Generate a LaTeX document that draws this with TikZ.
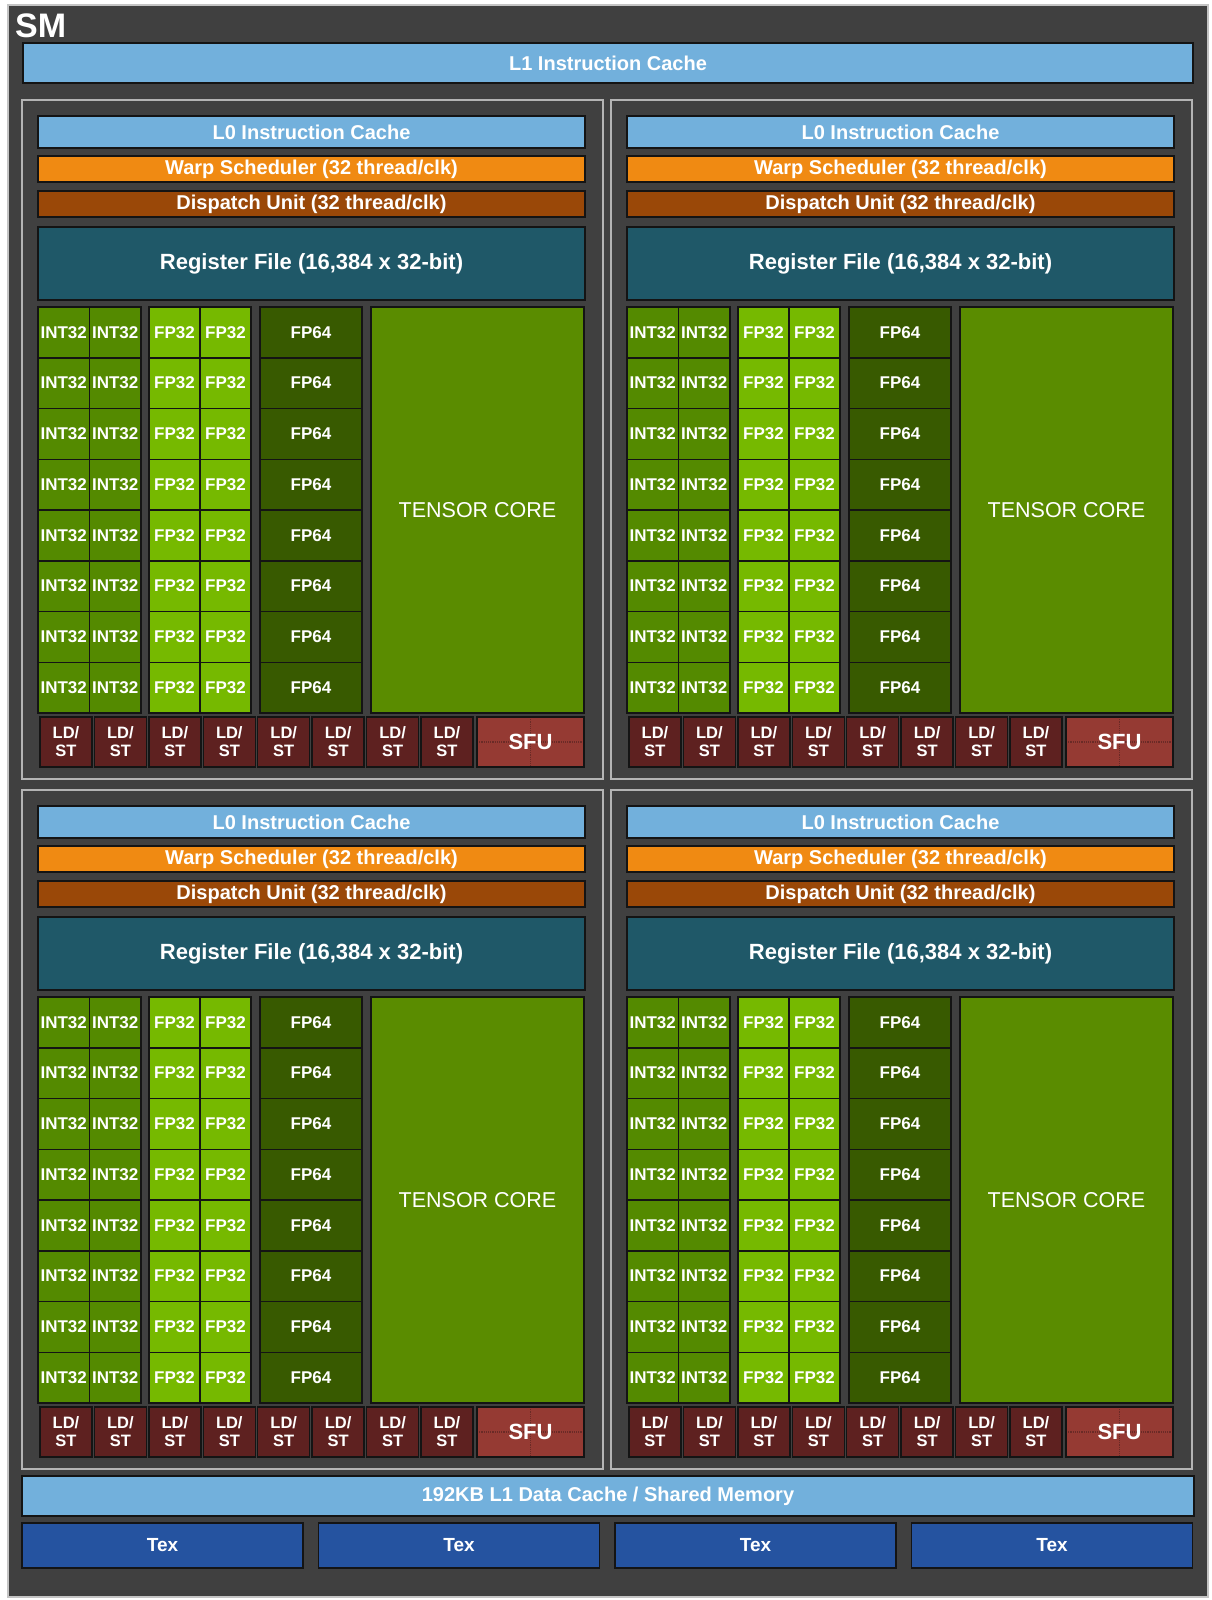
\documentclass[tikz,border=0pt]{standalone}
\usepackage{fontspec}
\setmainfont{Liberation Sans}
\definecolor{bgdark}{HTML}{404040}
\definecolor{outerline}{HTML}{C4C4C4}
\definecolor{quadline}{HTML}{B4B4B4}
\definecolor{cacheblue}{HTML}{72B0DC}
\definecolor{warporange}{HTML}{F08A12}
\definecolor{dispbrown}{HTML}{9A4808}
\definecolor{regteal}{HTML}{1F5868}
\definecolor{intgreen}{HTML}{548A00}
\definecolor{fpgreen}{HTML}{76B900}
\definecolor{fp64green}{HTML}{385A00}
\definecolor{tensorgreen}{HTML}{5A8C00}
\definecolor{ldstred}{HTML}{5E2120}
\definecolor{sfured}{HTML}{953A33}
\definecolor{sfudotc}{HTML}{6A2A26}
\definecolor{texblue}{HTML}{2553A0}
\definecolor{edgedark}{HTML}{141414}
\tikzset{
  blk/.style={draw=edgedark, line width=1.5pt, inner sep=0pt, outer sep=0pt, text=white, align=center},
  bartext/.style={font=\fontsize{20}{24}\selectfont\bfseries},
  cachebar/.style={blk, fill=cacheblue, bartext},
  warpbar/.style={blk, fill=warporange, bartext},
  dispbar/.style={blk, fill=dispbrown, bartext},
  regbar/.style={blk, fill=regteal, font=\fontsize{22}{26}\selectfont\bfseries},
  unittext/.style={font=\fontsize{17}{20}\selectfont\bfseries},
  intc/.style={blk, fill=intgreen, unittext, minimum width=51.5, minimum height=50.75},
  fpc/.style={blk, fill=fpgreen, unittext, minimum width=51, minimum height=50.75},
  fp64c/.style={blk, fill=fp64green, unittext, minimum width=102, minimum height=50.75},
  tensorc/.style={blk, fill=tensorgreen, font=\fontsize{21.5}{24}\selectfont, minimum width=213, minimum height=406},
  ldstc/.style={blk, fill=ldstred, font=\fontsize{16.5}{18}\selectfont\bfseries, minimum width=52, minimum height=50},
  sfuc/.style={blk, fill=sfured, font=\fontsize{22}{24}\selectfont\bfseries, minimum width=107, minimum height=50,
    path picture={\draw[sfudotc, densely dotted, line width=1.2pt]
      (path picture bounding box.north) -- (path picture bounding box.south)
      (path picture bounding box.west) -- (path picture bounding box.east);}},
  quadframe/.style={draw=quadline, line width=2.5pt, fill=bgdark, inner sep=0pt, outer sep=0pt, minimum width=581, minimum height=679},
  texc/.style={blk, fill=texblue, font=\fontsize{19}{22}\selectfont\bfseries, minimum width=281, minimum height=45}
}
\begin{document}
\begin{tikzpicture}[x=1pt, y=-1pt]
\useasboundingbox (0,0) rectangle (1212,1600);
\fill[white] (0,0) rectangle (1212,1600);
% outer SM frame
\node[draw=outerline, line width=2pt, fill=bgdark, inner sep=0pt, minimum width=1200, minimum height=1592] (sm) at (608,801) {};
\node[text=white, font=\fontsize{34}{36}\selectfont\bfseries, anchor=base west, inner sep=0pt] (smlabel) at (15,38) {SM};
% L1 instruction cache
\node[cachebar, minimum width=1170, minimum height=40] (l1i) at (608,63) {L1 Instruction Cache};
% quadrants
\foreach \q/\qx/\qy in {1/22/100, 2/611/100, 3/22/790, 4/611/790} {
  \begin{scope}[shift={(\qx,\qy)}]
    \node[quadframe] (q\q) at (290.5,339.5) {};
    \node[cachebar, minimum width=547, minimum height=32] (q\q-l0) at (289.5,32) {L0 Instruction Cache};
    \node[warpbar, minimum width=547, minimum height=26] (q\q-warp) at (289.5,69) {Warp Scheduler (32 thread/clk)};
    \node[dispbar, minimum width=547, minimum height=26] (q\q-disp) at (289.5,104) {Dispatch Unit (32 thread/clk)};
    \node[regbar, minimum width=547, minimum height=73] (q\q-reg) at (289.5,163.5) {Register File (16,384 x 32-bit)};
    \foreach \r in {0,...,7} {
      \pgfmathsetmacro{\yc}{207+50.75*(\r+0.5)}
      \node[intc] (q\q-int\r-a) at (41.75,\yc) {INT32};
      \node[intc] (q\q-int\r-b) at (93.25,\yc) {INT32};
      \node[fpc] (q\q-fp\r-a) at (152.5,\yc) {FP32};
      \node[fpc] (q\q-fp\r-b) at (203.5,\yc) {FP32};
      \node[fp64c] (q\q-dp\r) at (289,\yc) {FP64};
    }
    \node[tensorc] (q\q-tensor) at (455.5,410) {TENSOR CORE};
    \foreach \i in {0,...,7} {
      \pgfmathsetmacro{\xc}{44+54.43*\i}
      \node[ldstc] (q\q-ldst\i) at (\xc,642) {LD/\\ST};
    }
    \node[sfuc] (q\q-sfu) at (508.5,642) {SFU};
  \end{scope}
}
% L1 data cache
\node[cachebar, minimum width=1172, minimum height=40] (l1d) at (608,1496) {192KB L1 Data Cache / Shared Memory};
\foreach \t in {0,...,3} {
  \pgfmathsetmacro{\xc}{162.5+296.5*\t}
  \node[texc] (tex\t) at (\xc,1545.5) {Tex};
}
\end{tikzpicture}
\end{document}
